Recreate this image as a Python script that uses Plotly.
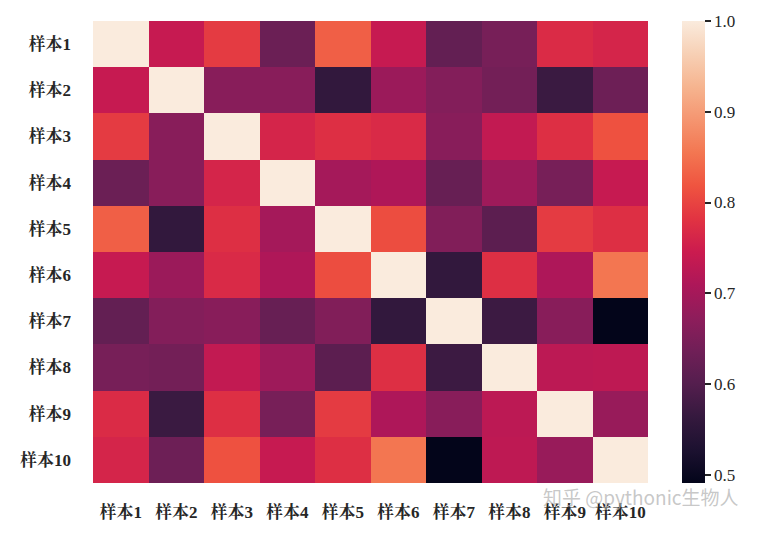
import plotly.graph_objects as go

labels = ["样本1", "样本2", "样本3", "样本4", "样本5", "样本6", "样本7", "样本8", "样本9", "样本10"]

row1 = [1.000, 0.740, 0.790, 0.630, 0.830, 0.740, 0.620, 0.645, 0.770, 0.760]
row2 = [0.740, 1.000, 0.665, 0.665, 0.560, 0.688, 0.660, 0.640, 0.570, 0.632]
row3 = [0.790, 0.665, 1.000, 0.760, 0.775, 0.768, 0.665, 0.735, 0.775, 0.815]
row4 = [0.630, 0.665, 0.760, 1.000, 0.700, 0.712, 0.625, 0.692, 0.645, 0.740]
row5 = [0.830, 0.560, 0.775, 0.700, 1.000, 0.810, 0.657, 0.610, 0.790, 0.775]
row6 = [0.740, 0.688, 0.768, 0.712, 0.810, 1.000, 0.560, 0.775, 0.710, 0.855]
row7 = [0.620, 0.660, 0.665, 0.625, 0.657, 0.560, 1.000, 0.572, 0.665, 0.491]
row8 = [0.645, 0.640, 0.735, 0.692, 0.610, 0.775, 0.572, 1.000, 0.728, 0.730]
row9 = [0.770, 0.570, 0.775, 0.645, 0.790, 0.710, 0.665, 0.728, 1.000, 0.685]
row10 = [0.760, 0.632, 0.815, 0.740, 0.775, 0.855, 0.491, 0.730, 0.685, 1.000]

values = [row1, row2, row3, row4, row5, row6, row7, row8, row9, row10]

cbar_ticks = [0.5, 0.6, 0.7, 0.8, 0.9, 1.0]

rocket = [
    [0.000, "#03051a"],
    [0.071, "#1c1130"],
    [0.143, "#35193e"],
    [0.214, "#541e4e"],
    [0.286, "#701f57"],
    [0.357, "#8e1d5b"],
    [0.429, "#ad1759"],
    [0.500, "#cb1b4f"],
    [0.571, "#e13342"],
    [0.643, "#ef5440"],
    [0.714, "#f37651"],
    [0.786, "#f59570"],
    [0.857, "#f6b48f"],
    [0.929, "#f7d0b5"],
    [1.000, "#faebdd"],
]

font_main = "Liberation Serif, 'Noto Serif CJK SC', 'Noto Sans CJK SC', serif"

fig = go.Figure(
    go.Heatmap(
        z=values,
        x=labels,
        y=labels,
        colorscale=rocket,
        zmin=0.491,
        zmax=1.0,
        xgap=0,
        ygap=0,
        colorbar=dict(
            x=1.061,
            xanchor="left",
            xpad=0,
            ypad=0,
            y=0,
            yanchor="bottom",
            len=1,
            lenmode="fraction",
            thickness=23,
            outlinewidth=0,
            tickvals=cbar_ticks,
            ticktext=[f"{v:.1f}" for v in cbar_ticks],
            ticks="outside",
            ticklen=6,
            tickwidth=2,
            tickcolor="#262626",
            tickfont=dict(family=font_main, size=17, color="#262626"),
        ),
    )
)

fig.update_layout(
    width=753,
    height=527,
    margin=dict(l=81, r=113, t=13, b=52),
    paper_bgcolor="white",
    plot_bgcolor="white",
    font=dict(family=font_main, color="#262626"),
    xaxis=dict(
        showgrid=False,
        zeroline=False,
        ticks="",
        ticklabelstandoff=17,
        tickfont=dict(family=font_main, size=17, color="#262626", weight="bold"),
    ),
    yaxis=dict(
        showgrid=False,
        zeroline=False,
        autorange="reversed",
        ticks="",
        ticklabelstandoff=21,
        tickfont=dict(family=font_main, size=17, color="#262626", weight="bold"),
    ),
    annotations=[
        dict(
            text="知乎 @pythonic生物人",
            xref="paper",
            yref="paper",
            x=1.168,
            y=-0.030,
            xanchor="right",
            yanchor="middle",
            showarrow=False,
            font=dict(family="'Noto Sans CJK SC', 'Noto Sans', sans-serif", size=19, color="rgba(175,175,175,0.7)"),
        )
    ],
)

fig.write_html("out.html")
